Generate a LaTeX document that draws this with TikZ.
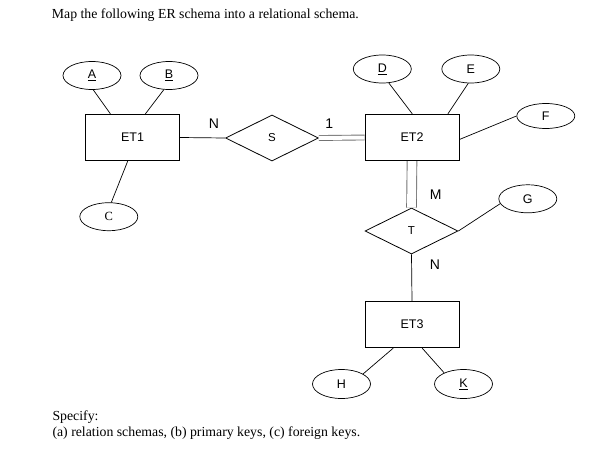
\documentclass[tikz,border=0pt]{standalone}
\usepackage{fontspec}
\setmainfont{Liberation Serif}
\setsansfont{Liberation Sans}
\usetikzlibrary{shapes.geometric,calc}
\tikzset{
  entity/.style={draw, line width=0.8pt, minimum width=94pt, minimum height=46.5pt, inner sep=0pt, font=\sffamily\fontsize{12.5}{14}\selectfont},
  attr/.style={draw, ellipse, line width=0.7pt, minimum width=58pt, minimum height=28pt, inner sep=0pt, font=\sffamily\fontsize{12.5}{14}\selectfont},
  rel/.style={draw, diamond, line width=0.8pt, minimum width=93pt, minimum height=46pt, inner sep=0pt, font=\sffamily\fontsize{11.5}{13}\selectfont},
  conn/.style={line width=0.7pt},
  dbl/.style={draw=black!55, line width=0.9pt, double=white},
  card/.style={font=\sffamily\fontsize{14}{15}\selectfont, inner sep=0pt},
  txt/.style={font=\fontsize{13.8}{16.7}\selectfont, inner sep=0pt, anchor=base west, align=left}
}
\begin{document}
\begin{tikzpicture}[x=1pt,y=-1pt]
\useasboundingbox (0,0) rectangle (594,463);
\node[txt] (title) at (51.7,18.3) {Map the following ER schema into a relational schema.};
\node[txt] (spec) at (52.3,436.7) {Specify:\\(a) relation schemas, (b) primary keys, (c) foreign keys.};

\node[entity] (ET1) at (132.5,137.5) {ET1};
\node[entity] (ET2) at (412,137.5) {ET2};
\node[entity] (ET3) at (412,324.5) {ET3};

\node[rel] (S) at (272,138) {S};
\node[rel] (T) at (411.5,231) {T};

\node[attr] (A) at (92,75.5) {\underline{A}};
\node[attr] (B) at (169,75.5) {\underline{B}};
\node[attr, font=\rmfamily\fontsize{12.5}{14}\selectfont] (C) at (108.8,216.7) {C};
\node[attr] (D) at (382.3,69) {\underline{D}};
\node[attr] (E) at (470.8,69) {E};
\node[attr, minimum height=25pt] (F) at (545.8,116) {F};
\node[attr] (G) at (527.8,198.8) {G};
\node[attr, minimum height=29pt] (H) at (341.5,384) {H};
\node[attr, minimum height=29pt] (K) at (463.5,384) {\underline{K}};

\draw[conn] (A.-85) -- ([xshift=25.3pt]ET1.north west);
\draw[conn] (B.-110) -- ([xshift=60.3pt]ET1.north west);
\draw[conn] ([xshift=42.6pt]ET1.south west) -- (C.80);
\draw[conn] (D.-65) -- ([xshift=47.7pt]ET2.north west);
\draw[conn] (E.-100) -- ([xshift=83.3pt]ET2.north west);
\draw[conn] ([yshift=-2pt]ET2.east) -- (F.west);
\draw[conn] (T.east) -- (G.190);
\draw[conn] ([xshift=28.6pt]ET3.south west) -- (H.25);
\draw[conn] ([xshift=57.6pt]ET3.south west) -- (K.150);

\draw[conn] (ET1.east) -- (S.west);
\draw[dbl, double distance=4pt] (S.east) -- (ET2.west);
\draw[dbl, double distance=8.8pt] (ET2.south) -- (T.north);
\draw[conn] (T.south) -- (ET3.north);

\node[card] (n1) at (214,124) {N};
\node[card] (one) at (329.3,124) {1};
\node[card] (m) at (435.7,195) {M};
\node[card] (n2) at (435,265) {N};
\end{tikzpicture}
\end{document}
